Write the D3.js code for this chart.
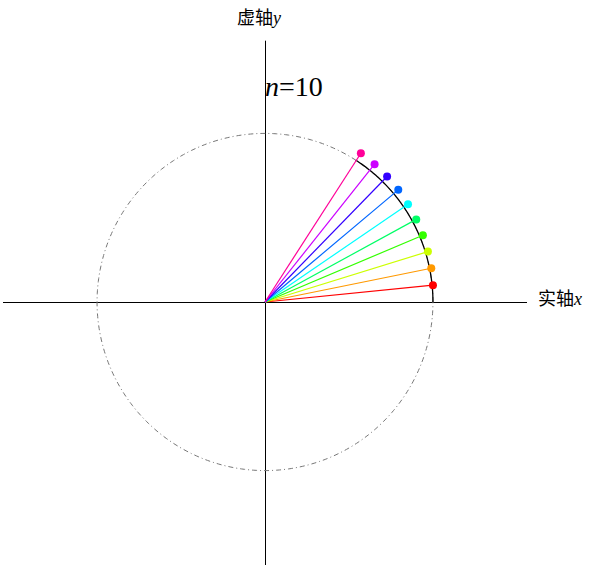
<!DOCTYPE html><html><head><meta charset="utf-8"><script src="https://cdn.jsdelivr.net/npm/d3@7"></script>
<style>body{margin:0;background:#fff}</style></head><body><svg id="c" width="599" height="568"></svg>
<script>
const n = 10;
const ks = d3.range(1, n + 1);
const hues = ks.map((k,i) => i * 360 / n);
const xDomain = [-1.56, 1.56];
const yDomain = [-1.56, 1.56];
const svg = d3.select("#c");
const x = d3.scaleLinear().domain(xDomain).range([3, 527]);
const y = d3.scaleLinear().domain(yDomain).range([565, 39]);
svg.append("line").attr("x1",x(xDomain[0])).attr("x2",x(xDomain[1])).attr("y1",Math.round(y(0))+0.5).attr("y2",Math.round(y(0))+0.5).attr("stroke","#000");
svg.append("line").attr("x1",Math.round(x(0))+0.5).attr("x2",Math.round(x(0))+0.5).attr("y1",y(yDomain[0])).attr("y2",y(1.55)).attr("stroke","#000");
const circ = d3.range(0, 361).map(a => [Math.cos(a*Math.PI/180), Math.sin(a*Math.PI/180)]);
const line = d3.line().x(d=>x(d[0])).y(d=>y(d[1]));
svg.append("path").attr("d", line(circ)).attr("fill","none").attr("stroke","#777").attr("stroke-dasharray","5,3,1,3");
const arc = d3.range(0, 101).map(i => { const a = i/100; return [Math.cos(a), Math.sin(a)]; });
svg.append("path").attr("d", line(arc)).attr("fill","none").attr("stroke","#000").attr("stroke-width",1.3);
ks.forEach((k,i) => {
  const r = Math.pow(Math.hypot(1, 1/n), k), a = k*Math.atan(1/n);
  const px = r*Math.cos(a), py = r*Math.sin(a);
  const c = d3.hsl(hues[i],1,0.5).toString();
  svg.append("line").attr("x1",x(0)).attr("y1",y(0)).attr("x2",x(px)).attr("y2",y(py)).attr("stroke",c).attr("stroke-width",1.2);
  svg.append("circle").attr("cx",x(px)).attr("cy",y(py)).attr("r",4).attr("fill",c);
});
svg.append("text").attr("x",x(0)).attr("y",96).attr("font-family","Liberation Serif, serif").attr("font-size",28)
  .html('<tspan font-style="italic">n</tspan>=10');
svg.append("text").attr("x",538).attr("y",305).attr("font-family","Noto Sans CJK SC").attr("font-size",18)
  .html('实轴<tspan font-family="Liberation Serif" font-style="italic">x</tspan>');
svg.append("text").attr("x",237).attr("y",24).attr("font-family","Noto Sans CJK SC").attr("font-size",18)
  .html('虚轴<tspan font-family="Liberation Serif" font-style="italic">y</tspan>');
</script></body></html>
